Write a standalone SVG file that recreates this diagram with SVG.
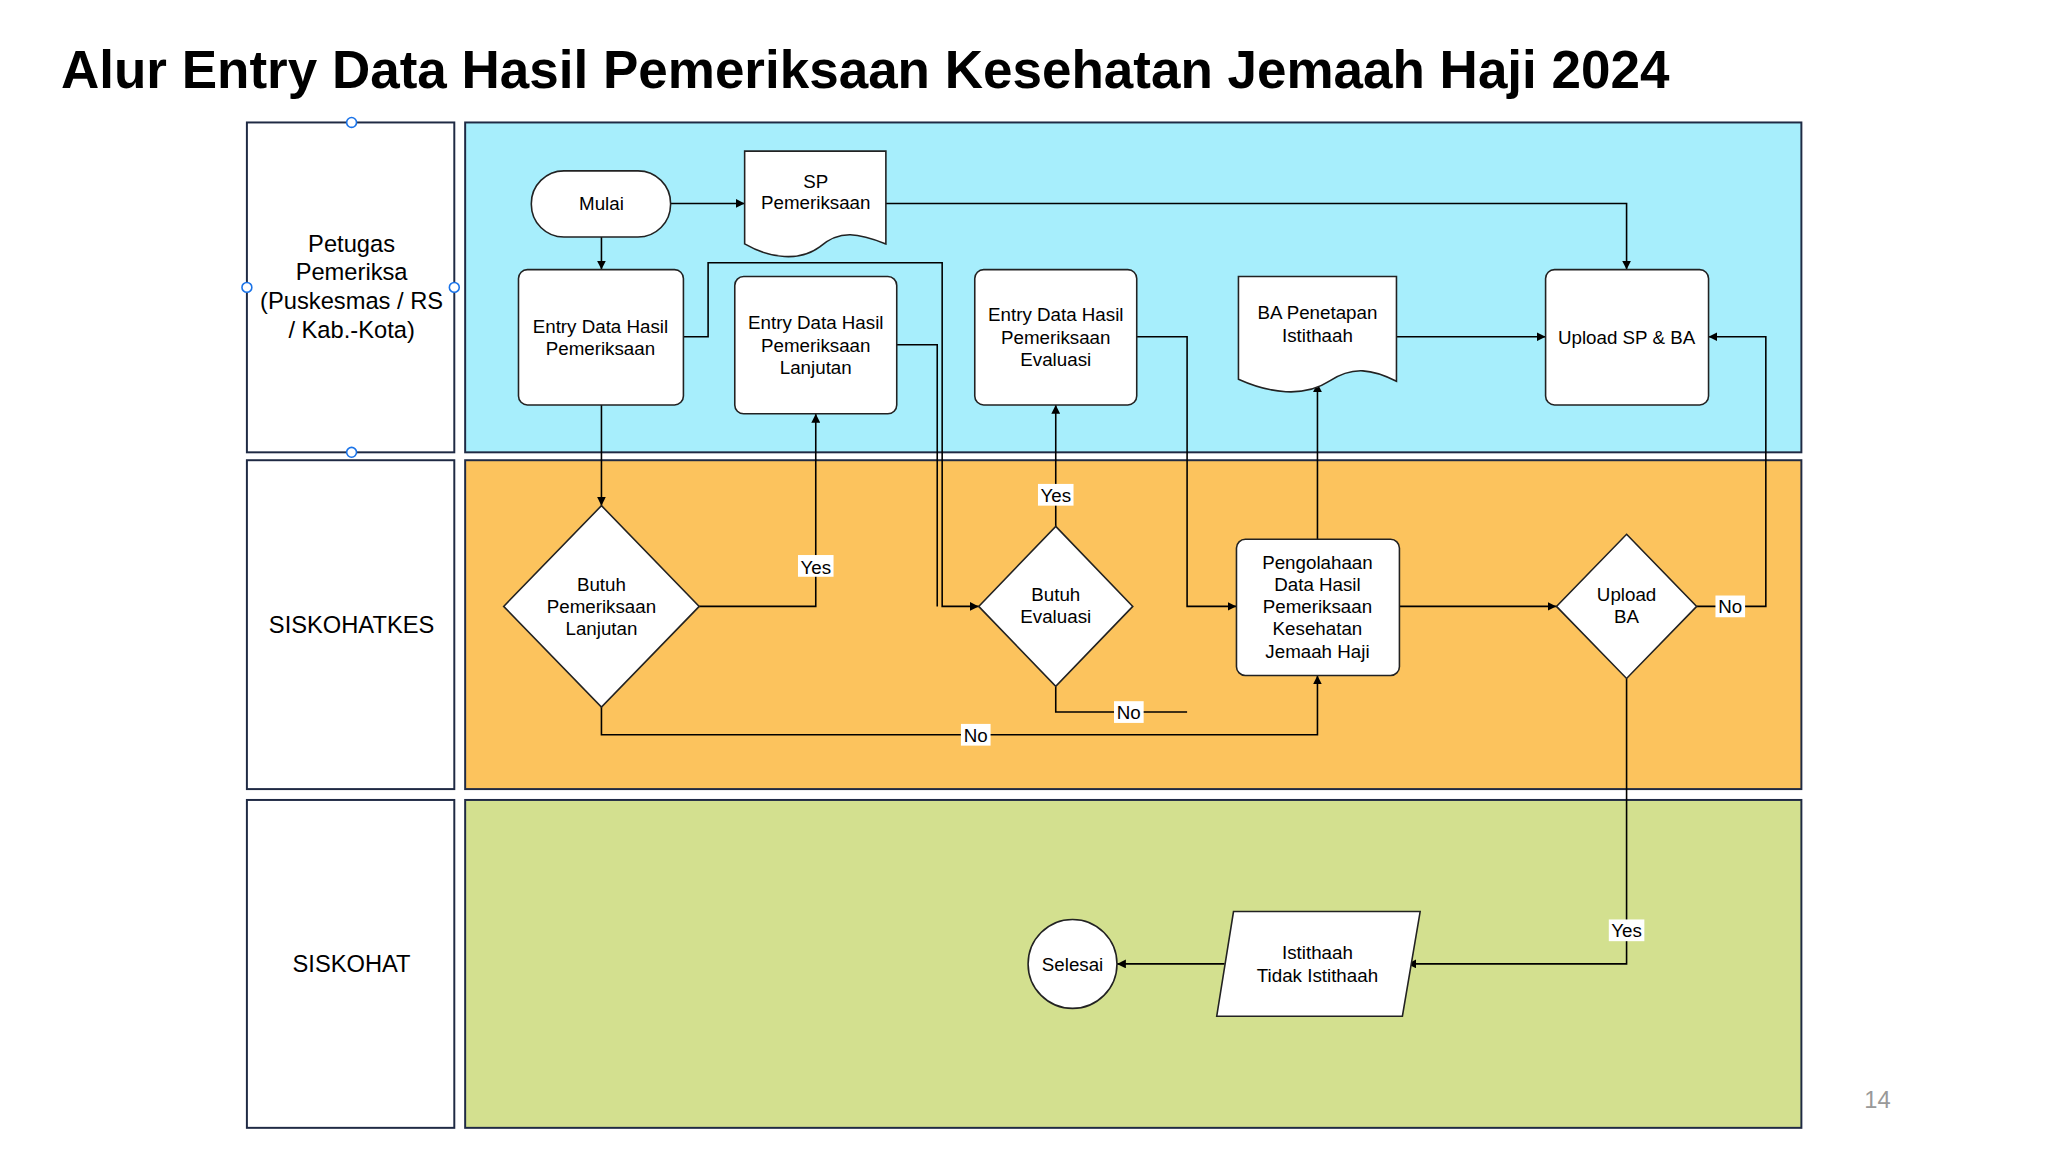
<svg xmlns="http://www.w3.org/2000/svg" width="2048" height="1152" viewBox="0 0 2048 1152">
<defs>
<marker id="ah" viewBox="0 0 10 10" refX="10" refY="5" markerWidth="9" markerHeight="9" markerUnits="userSpaceOnUse" orient="auto"><path d="M0,0 L10,5 L0,10 z" fill="#000"/></marker>
<style>
text{font-family:"Liberation Sans",Arial,sans-serif;fill:#000;text-anchor:middle}
.t{font-size:19px}
.lane{font-size:24px}
.lb{fill:#fff;stroke:#1f2a44;stroke-width:2}
.nd{fill:#fff;stroke:#222;stroke-width:1.6}
.c{fill:none;stroke:#000;stroke-width:1.6}
.a{marker-end:url(#ah)}
.lbl{fill:#fff}
.h{fill:#fff;stroke:#1a73e8;stroke-width:1.6}
</style>
</defs>
<rect width="2048" height="1152" fill="#fff"/>
<text x="61" y="88" style="font-size:53px;font-weight:bold;text-anchor:start">Alur Entry Data Hasil Pemeriksaan Kesehatan Jemaah Haji 2024</text>
<g transform="scale(0.9876)">
<g id="lanes">
<rect class="lb" x="250" y="124" width="210" height="334"/>
<rect x="471" y="124" width="1353" height="334" fill="#a7eefc" stroke="#1f2a44" stroke-width="2"/>
<rect class="lb" x="250" y="466" width="210" height="333"/>
<rect x="471" y="466" width="1353" height="333" fill="#fcc35d" stroke="#1f2a44" stroke-width="2"/>
<rect class="lb" x="250" y="810" width="210" height="332"/>
<rect x="471" y="810" width="1353" height="332" fill="#d3e08f" stroke="#1f2a44" stroke-width="2"/>
<text class="lane" x="356" y="255">Petugas</text>
<text class="lane" x="356" y="284">Pemeriksa</text>
<text class="lane" x="356" y="313">(Puskesmas / RS</text>
<text class="lane" x="356" y="342">/ Kab.-Kota)</text>
<text class="lane" x="356" y="641">SISKOHATKES</text>
<text class="lane" x="356" y="984">SISKOHAT</text>
<circle class="h" cx="356" cy="124" r="5"/><circle class="h" cx="356" cy="458" r="5"/>
<circle class="h" cx="250" cy="291" r="5"/><circle class="h" cx="460" cy="291" r="5"/>
</g>
<g id="connectors">
<path class="c a" d="M679,206 H754"/>
<path class="c a" d="M609,240 V273"/>
<path class="c a" d="M897,206 H1647 V273"/>
<path class="c a" d="M692,341 H717 V266 H954 V614 H991"/>
<path class="c" d="M908,349 H949 V614"/>
<path class="c a" d="M609,410 V512"/>
<path class="c a" d="M708,614 H826 V419"/>
<path class="c a" d="M609,716 V744 H1334 V684"/>
<path class="c a" d="M1069,533 V410"/>
<path class="c a" d="M1151,341 H1202 V614 H1252"/>
<path class="c" d="M1069,695 V721 H1202"/>
<path class="c a" d="M1334,546 V388"/>
<path class="c a" d="M1414,341 H1565"/>
<path class="c a" d="M1417,614 H1576"/>
<path class="c a" d="M1718,614 H1788 V341 H1730"/>
<path class="c a" d="M1647,687 V976 H1425"/>
<path class="c a" d="M1240,976 H1131"/>
<rect class="lbl" x="808" y="562" width="36" height="22"/><text class="t" x="826" y="581">Yes</text>
<rect class="lbl" x="973" y="733" width="30" height="22"/><text class="t" x="988" y="751">No</text>
<rect class="lbl" x="1051" y="490" width="36" height="22"/><text class="t" x="1069" y="508">Yes</text>
<rect class="lbl" x="1128" y="710" width="30" height="22"/><text class="t" x="1143" y="728">No</text>
<rect class="lbl" x="1737" y="603" width="30" height="22"/><text class="t" x="1752" y="621">No</text>
<rect class="lbl" x="1629" y="931" width="36" height="22"/><text class="t" x="1647" y="949">Yes</text>
</g>
<g id="mulai"><rect class="nd" x="538" y="173" width="141" height="67" rx="33"/><text class="t" x="609" y="213">Mulai</text></g>
<g id="sp"><path class="nd" d="M754,153 H897 V247 C870,236 850,232 830,250 C810,265 780,262 754,247 Z"/><text class="t" x="826" y="190">SP</text><text class="t" x="826" y="212">Pemeriksaan</text></g>
<g id="entry1"><rect class="nd" x="525" y="273" width="167" height="137" rx="9"/><text class="t" x="608" y="337">Entry Data Hasil</text><text class="t" x="608" y="359">Pemeriksaan</text></g>
<g id="entry2"><rect class="nd" x="744" y="280" width="164" height="139" rx="9"/><text class="t" x="826" y="333">Entry Data Hasil</text><text class="t" x="826" y="356">Pemeriksaan</text><text class="t" x="826" y="379">Lanjutan</text></g>
<g id="entry3"><rect class="nd" x="987" y="273" width="164" height="137" rx="9"/><text class="t" x="1069" y="325">Entry Data Hasil</text><text class="t" x="1069" y="348">Pemeriksaan</text><text class="t" x="1069" y="371">Evaluasi</text></g>
<g id="ba"><path class="nd" d="M1254,280 H1414 V386 C1390,374 1370,370 1346,386 C1320,403 1285,398 1254,384 Z"/><text class="t" x="1334" y="323">BA Penetapan</text><text class="t" x="1334" y="346">Istithaah</text></g>
<g id="upload"><rect class="nd" x="1565" y="273" width="165" height="137" rx="9"/><text class="t" x="1647" y="348">Upload SP &amp; BA</text></g>
<g id="d1"><path class="nd" d="M609,512 L708,614 L609,716 L510,614 Z"/><text class="t" x="609" y="598">Butuh</text><text class="t" x="609" y="621">Pemeriksaan</text><text class="t" x="609" y="643">Lanjutan</text></g>
<g id="d2"><path class="nd" d="M1069,533 L1147,614 L1069,695 L991,614 Z"/><text class="t" x="1069" y="609">Butuh</text><text class="t" x="1069" y="631">Evaluasi</text></g>
<g id="olah"><rect class="nd" x="1252" y="546" width="165" height="138" rx="9"/><text class="t" x="1334" y="576">Pengolahaan</text><text class="t" x="1334" y="598">Data Hasil</text><text class="t" x="1334" y="621">Pemeriksaan</text><text class="t" x="1334" y="643">Kesehatan</text><text class="t" x="1334" y="666">Jemaah Haji</text></g>
<g id="d3"><path class="nd" d="M1647,541 L1718,614 L1647,687 L1576,614 Z"/><text class="t" x="1647" y="609">Upload</text><text class="t" x="1647" y="631">BA</text></g>
<g id="istithaah"><path class="nd" d="M1249,923 H1438 L1420,1029 H1232 Z"/><text class="t" x="1334" y="971">Istithaah</text><text class="t" x="1334" y="994">Tidak Istithaah</text></g>
<g id="selesai"><circle class="nd" cx="1086" cy="976" r="45"/><text class="t" x="1086" y="983">Selesai</text></g>
<text x="1901" y="1122" style="font-size:24px;fill:#999">14</text>
</g>
</svg>
